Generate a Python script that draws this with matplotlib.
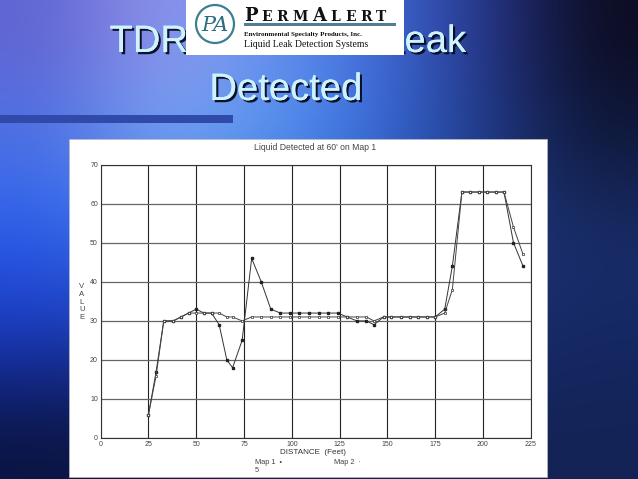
import numpy as np
import matplotlib.pyplot as plt
import matplotlib.patheffects as pe
from matplotlib.patches import Rectangle, Circle

# TDR trace data
distance = [25, 29, 33, 38, 42, 46, 50, 54, 58, 62, 66, 69, 74, 79, 84, 89, 94, 99,
            104, 109, 114, 119, 124, 129, 134, 139, 143, 148, 152, 157, 162, 166,
            171, 175, 180, 184, 189, 193, 198, 202, 207, 211, 216, 221]
map1 = [6, 17, 30, 30, 31, 32, 33, 32, 32, 29, 20, 18, 25, 46, 40, 33, 32, 32,
        32, 32, 32, 32, 32, 31, 30, 30, 29, 31, 31, 31, 31, 31,
        31, 31, 33, 44, 63, 63, 63, 63, 63, 63, 50, 44]
map2 = [6, 16, 30, 30, 31, 32, 32, 32, 32, 32, 31, 31, 30, 31, 31, 31, 31, 31,
        31, 31, 31, 31, 31, 31, 31, 31, 30, 31, 31, 31, 31, 31,
        31, 31, 32, 38, 63, 63, 63, 63, 63, 63, 54, 47]
x_ticks = [0, 25, 50, 75, 100, 125, 150, 175, 200, 225]
y_ticks = [0, 10, 20, 30, 40, 50, 60, 70]

W, H = 638, 479
fig = plt.figure(figsize=(W / 100, H / 100), dpi=100)

# slide background (pixel coordinates)
deco = fig.add_axes([0, 0, 1, 1], zorder=0)
deco.set_xlim(0, W)
deco.set_ylim(H, 0)
deco.axis('off')

bg = np.array([
    [(95, 100, 210), (150, 150, 235), (105, 150, 240), (65, 110, 220), (40, 55, 145), (12, 12, 32)],
    [(75, 115, 230), (115, 170, 245), (85, 150, 240), (55, 110, 225), (30, 60, 140), (15, 25, 60)],
    [(40, 90, 235), (60, 120, 235), (60, 110, 220), (45, 90, 190), (30, 55, 120), (25, 45, 105)],
    [(25, 55, 190), (30, 60, 170), (35, 60, 150), (30, 55, 130), (25, 45, 110), (20, 40, 100)],
    [(10, 20, 65), (15, 25, 70), (20, 30, 80), (20, 35, 85), (20, 35, 85), (20, 35, 85)],
]) / 255
deco.imshow(bg, extent=(0, W, H, 0), interpolation='bicubic', aspect='auto', zorder=0)

deco.add_patch(Rectangle((0, 115), 233, 8, fc='#2f4aa8', ec='none', zorder=1))

title_fx = [pe.withSimplePatchShadow(offset=(1.6, -1.6), shadow_rgbFace='#0a0a20', alpha=0.95),
            pe.Normal()]
deco.text(288, 52, 'TDR Trace with Leak', fontsize=27.5, family='Liberation Sans',
          color='#cdf3ff', ha='center', va='baseline', path_effects=title_fx, zorder=2)
deco.text(286, 100, 'Detected', fontsize=27.5, family='Liberation Sans',
          color='#cdf3ff', ha='center', va='baseline', path_effects=title_fx, zorder=2)

# logo box covering part of the title
deco.add_patch(Rectangle((186, 0), 218, 55, fc='white', ec='none', zorder=5))
deco.add_patch(Circle((215, 24), 19, fc='white', ec='#3d7f92', lw=1.6, zorder=6))
deco.text(215, 25, 'PA', fontsize=15, family='DejaVu Serif', style='italic',
          color='#2c6c80', ha='center', va='center', zorder=7)
letters = 'PERMALERT'
sizes = [13, 10, 10, 10, 13, 10, 10, 10, 10]
advance = [17, 15, 16, 20, 18, 15, 15, 16, 16]
xpos = 244
for ch, s, a in zip(letters, sizes, advance):
    deco.text(xpos, 21, ch, fontsize=s, family='DejaVu Serif', weight='bold',
              color='#111111', ha='left', va='baseline', zorder=7)
    xpos += a
deco.add_patch(Rectangle((244, 23), 152, 3, fc='#4f7f96', ec='none', zorder=7))
deco.text(244, 36, 'Environmental Specialty Products, Inc.', fontsize=5,
          family='Liberation Serif', weight='bold', color='#111111',
          ha='left', va='baseline', zorder=7)
deco.text(244, 47, 'Liquid Leak Detection Systems', fontsize=7,
          family='Liberation Serif', color='#111111', ha='left', va='baseline', zorder=7)

# white chart panel
deco.add_patch(Rectangle((69, 139), 478, 338, fc='white', ec='#bbbbbb', lw=0.5, zorder=3))
deco.text(315, 147, "Liquid Detected at 60' on Map 1", fontsize=6.2,
          family='Liberation Sans', color='#444444', ha='center', va='center', zorder=4)
deco.text(82, 302, 'V\nA\nL\nU\nE', fontsize=5.6, family='Liberation Sans',
          color='#444444', ha='center', va='center', linespacing=1.15, zorder=4)
deco.text(313, 452, 'DISTANCE  (Feet)', fontsize=5.8, family='Liberation Sans',
          color='#333333', ha='center', va='center', zorder=4)
deco.text(255, 462, 'Map 1  \u2022', fontsize=5.3, family='Liberation Sans',
          color='#444444', ha='left', va='center', zorder=4)
deco.text(255, 470, '5', fontsize=5.3, family='Liberation Sans',
          color='#444444', ha='left', va='center', zorder=4)
deco.text(334, 462, 'Map 2  \u00b7', fontsize=5.3, family='Liberation Sans',
          color='#444444', ha='left', va='center', zorder=4)

# chart
ax = fig.add_axes([100.7 / W, 1 - 438 / H, 430 / W, 273.3 / H], zorder=2)
ax.set_facecolor('white')
ax.plot(distance, map1, color='#333333', lw=0.7, marker='s', ms=1.8,
        mfc='#222222', mec='#222222', zorder=3)
ax.plot(distance, map2, color='#444444', lw=0.7, marker='s', ms=1.6,
        mfc='white', mec='#333333', mew=0.5, zorder=3)
ax.set_xlim(0, 225)
ax.set_ylim(0, 70)
ax.set_xticks(x_ticks)
ax.set_yticks(y_ticks)
ax.grid(axis='x', color='#222222', lw=0.8)
ax.grid(axis='y', color='#666666', lw=0.9)
for sp in ax.spines.values():
    sp.set_color('#333333')
    sp.set_linewidth(0.8)
ax.tick_params(length=0, pad=2, labelsize=5, labelcolor='#444444')
for lab in ax.get_xticklabels() + ax.get_yticklabels():
    lab.set_family('Liberation Sans')

fig.savefig('out.png', dpi=100)
